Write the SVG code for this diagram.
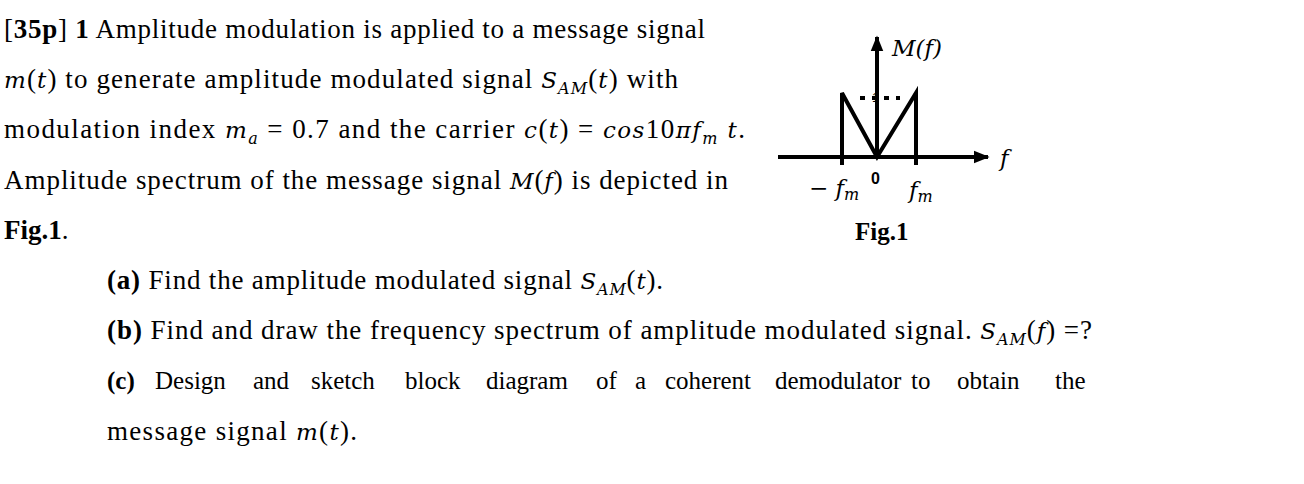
<svg xmlns="http://www.w3.org/2000/svg" width="1304" height="484" viewBox="0 0 1304 484">
<style>
text{font-family:"Liberation Serif","Times New Roman",serif;font-size:27px;fill:#000}
.m{font-style:italic;font-family:"DejaVu Serif","Liberation Serif",serif;font-size:23px}
.s{font-size:16px}
.b{font-weight:bold}
.ax{stroke:#000;stroke-width:4;fill:none}
</style>
<defs><marker id="ar" viewBox="0 0 10 10" refX="9" refY="5" markerWidth="4" markerHeight="4" orient="auto"><path d="M0,1 L10,5 L0,9 Z" fill="#000"/></marker></defs>
<rect width="1304" height="484" fill="#fff"/>
<g id="body">
<text x="4" y="38" textLength="701">[<tspan class="b">35p</tspan>] <tspan class="b">1</tspan> Amplitude modulation is applied to a message signal</text>
<text x="4" y="88" textLength="674"><tspan class="m">m</tspan>(<tspan class="m">t</tspan>)  to generate amplitude modulated signal <tspan class="m">S</tspan><tspan class="m s" dy="6">AM</tspan><tspan dy="-6">(</tspan><tspan class="m">t</tspan>) with</text>
<text x="4" y="138" textLength="741">modulation index  <tspan class="m">m</tspan><tspan class="m s" dy="6">a</tspan><tspan dy="-6"> = 0.7 and the carrier </tspan><tspan class="m">c</tspan>(<tspan class="m">t</tspan>) = <tspan class="m">cos</tspan>10<tspan class="m">πf</tspan><tspan class="m s" dy="6">m</tspan><tspan class="m" dy="-6"> t</tspan>.</text>
<text x="4" y="189" textLength="724">Amplitude spectrum of the message signal <tspan class="m">M</tspan>(<tspan class="m">f</tspan>) is depicted in</text>
<text x="4" y="239" class="b">Fig.1<tspan font-weight="normal">.</tspan></text>
<text x="107" y="289" textLength="556"><tspan class="b">(a)</tspan> Find the amplitude modulated signal <tspan class="m">S</tspan><tspan class="m s" dy="6">AM</tspan><tspan dy="-6">(</tspan><tspan class="m">t</tspan>).</text>
<text x="107" y="339" textLength="985"><tspan class="b">(b)</tspan> Find and draw the frequency spectrum of amplitude modulated signal. <tspan class="m">S</tspan><tspan class="m s" dy="6">AM</tspan><tspan dy="-6">(</tspan><tspan class="m">f</tspan>) =?</text>
<text y="389" style="font-size:25px"><tspan x="107" class="b">(c)</tspan><tspan x="155">Design</tspan><tspan x="253">and</tspan><tspan x="311">sketch</tspan><tspan x="405">block</tspan><tspan x="486">diagram</tspan><tspan x="596">of</tspan><tspan x="635">a</tspan><tspan x="665">coherent</tspan><tspan x="775">demodulator</tspan><tspan x="911">to</tspan><tspan x="957">obtain</tspan><tspan x="1055">the</tspan></text>
<text x="107" y="440" textLength="250">message signal <tspan class="m">m</tspan>(<tspan class="m">t</tspan>).</text>
</g>
<g id="fig">
<line class="ax" x1="778" y1="157" x2="988" y2="157" marker-end="url(#ar)"/>
<line class="ax" x1="877" y1="157" x2="877" y2="37" marker-end="url(#ar)"/>
<polyline class="ax" points="842,165 842,93 877,157 916,93 916,165"/>
<line x1="860" y1="98" x2="900" y2="98" stroke="#000" stroke-width="4" stroke-dasharray="5,7"/>
<text x="872" y="102" style="font-family:'Liberation Sans',sans-serif;font-size:12px">1</text>
<text x="892" y="56" class="m">M(f)</text>
<text x="1000" y="166" class="m">f</text>
<text x="809" y="196" class="m">− f<tspan class="s" dy="4">m</tspan></text>
<text x="871" y="184" style="font-family:'Liberation Sans',sans-serif;font-size:16px;font-weight:bold">0</text>
<text x="909" y="198" class="m">f<tspan class="s" dy="4">m</tspan></text>
<text x="855" y="240" class="b" style="font-size:25px">Fig.1</text>
</g>
</svg>
